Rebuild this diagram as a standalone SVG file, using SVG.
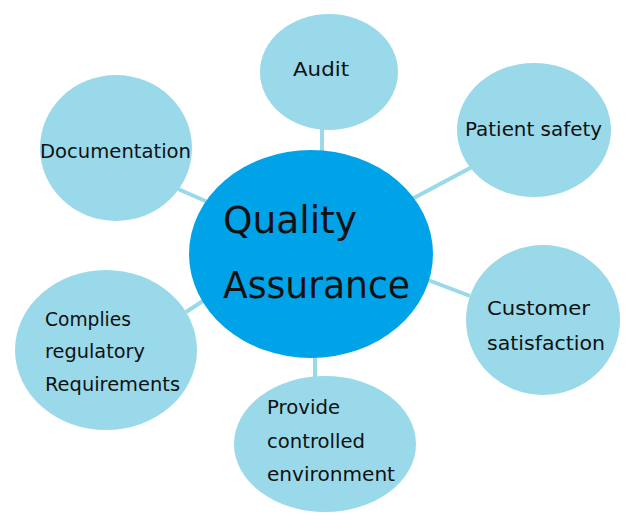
<svg xmlns="http://www.w3.org/2000/svg" width="631" height="529" viewBox="0 0 631 529">
<style>
.bg{fill:#ffffff}
.sat{fill:#99d9ea}
.hub{fill:#00a2e8}
.con{stroke:#99d9ea;stroke-width:4;fill:none}
text{font-family:"DejaVu Sans","Liberation Sans",sans-serif;fill:#111111}
.s{font-size:20px}
.h{font-size:37px}
</style>
<rect class="bg" x="0" y="0" width="631" height="529"/>
<g id="connectors">
<line class="con" x1="322" y1="128" x2="322" y2="155"/>
<line class="con" x1="472" y1="167" x2="412" y2="199"/>
<line class="con" x1="178" y1="189" x2="210" y2="203"/>
<line class="con" x1="428" y1="280" x2="470" y2="296"/>
<line class="con" x1="186" y1="312" x2="206" y2="299"/>
<line class="con" x1="315" y1="352" x2="315" y2="380"/>
</g>
<g id="audit">
<ellipse class="sat" cx="329" cy="72" rx="69" ry="58"/>
<text class="s" x="293" y="76" textLength="56" lengthAdjust="spacingAndGlyphs">Audit</text>
</g>
<g id="patient-safety">
<ellipse class="sat" cx="534" cy="130" rx="77" ry="67"/>
<text class="s" x="465" y="136" textLength="137" lengthAdjust="spacingAndGlyphs">Patient safety</text>
</g>
<g id="documentation">
<ellipse class="sat" cx="116" cy="148" rx="76" ry="73"/>
<text class="s" x="40" y="158" textLength="151" lengthAdjust="spacingAndGlyphs">Documentation</text>
</g>
<g id="customer-satisfaction">
<ellipse class="sat" cx="543" cy="320" rx="77" ry="75"/>
<text class="s" x="487" y="315" textLength="103" lengthAdjust="spacingAndGlyphs">Customer</text>
<text class="s" x="487" y="350" textLength="118" lengthAdjust="spacingAndGlyphs">satisfaction</text>
</g>
<g id="complies">
<ellipse class="sat" cx="106" cy="350" rx="91" ry="80"/>
<text class="s" x="45" y="326" textLength="86" lengthAdjust="spacingAndGlyphs">Complies</text>
<text class="s" x="45" y="358" textLength="100" lengthAdjust="spacingAndGlyphs">regulatory</text>
<text class="s" x="45" y="391" textLength="135" lengthAdjust="spacingAndGlyphs">Requirements</text>
</g>
<g id="provide">
<ellipse class="sat" cx="325" cy="444" rx="91" ry="68"/>
<text class="s" x="267" y="414" textLength="73" lengthAdjust="spacingAndGlyphs">Provide</text>
<text class="s" x="267" y="448" textLength="98" lengthAdjust="spacingAndGlyphs">controlled</text>
<text class="s" x="267" y="481" textLength="128" lengthAdjust="spacingAndGlyphs">environment</text>
</g>
<g id="quality-assurance">
<ellipse class="hub" cx="311" cy="254" rx="122" ry="104"/>
<text class="h" x="223" y="233" textLength="134" lengthAdjust="spacingAndGlyphs">Quality</text>
<text class="h" x="223" y="298" textLength="187" lengthAdjust="spacingAndGlyphs">Assurance</text>
</g>
</svg>
